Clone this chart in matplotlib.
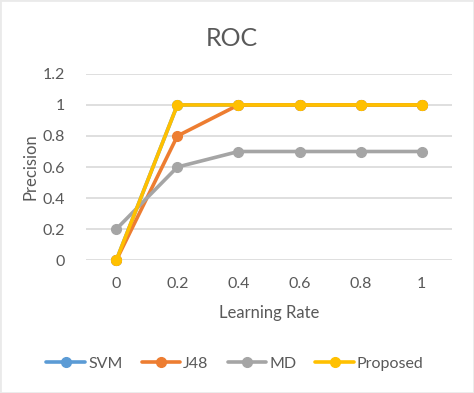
import matplotlib
matplotlib.use("Agg")
import matplotlib.pyplot as plt
import numpy as np

plt.rcParams['font.family'] = ['Lato', 'DejaVu Sans']

rates = ["0", "0.2", "0.4", "0.6", "0.8", "1"]
svm = [0, 1, 1, 1, 1, 1]
j48 = [0, 0.8, 1, 1, 1, 1]
md = [0.2, 0.6, 0.7, 0.7, 0.7, 0.7]
proposed = [0, 1, 1, 1, 1, 1]

names = ["SVM", "J48", "MD", "Proposed"]
colors = ["#5B9BD5", "#ED7D31", "#A5A5A5", "#FFC000"]
txt = "#595959"

fig = plt.figure(figsize=(4.74, 3.93), dpi=100)
ax = fig.add_axes([0.181, 0.338, 0.773, 0.474])

x = np.arange(len(rates))
for vals, name, c in zip([svm, j48, md, proposed], names, colors):
    ax.plot(x, vals, color=c, lw=2.6, marker="o", markersize=7, label=name,
            solid_capstyle="round")

ax.set_xlim(-0.5, len(rates) - 0.5)
ax.set_ylim(0, 1.2)
ax.set_yticks(np.arange(0, 1.21, 0.2))
ax.set_yticklabels(["0", "0.2", "0.4", "0.6", "0.8", "1", "1.2"])
ax.set_xticks(x)
ax.set_xticklabels(rates)
ax.tick_params(length=0, labelsize=11.5, colors=txt, pad=12)
ax.tick_params(axis="y", pad=15)
ax.yaxis.grid(True, color="#D9D9D9", lw=1.2)
ax.set_axisbelow(True)
for s in ax.spines.values():
    s.set_visible(False)
for ln in ax.get_lines():
    ln.set_clip_on(False)

ax.set_xlabel("Learning Rate", fontsize=12, color=txt, labelpad=10)
ax.set_ylabel("Precision", fontsize=12, color=txt, labelpad=3)
fig.text(0.49, 0.903, "ROC", fontsize=18, color=txt, ha="center", va="center")

fig.legend(loc="center", bbox_to_anchor=(0.496, 0.075), ncol=4, frameon=False,
           fontsize=11.5, labelcolor=txt, handlelength=2.4, handletextpad=0.2,
           columnspacing=1.2)

fig.patches.append(plt.Rectangle((0, 0), 1, 1, transform=fig.transFigure,
                                 fill=False, edgecolor="#EAEAEA", lw=2))
fig.savefig("out.png", dpi=100)
